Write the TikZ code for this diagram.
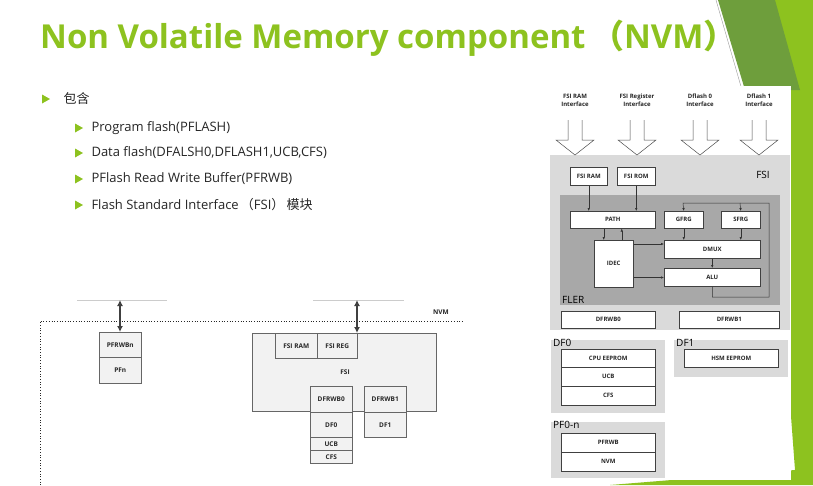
\documentclass[tikz,border=0pt]{standalone}
\usepackage{fontspec}
\setmainfont{Open Sans}
\newfontfamily\cjk{Noto Sans CJK SC}
\usetikzlibrary{arrows.meta}
\definecolor{tgreen}{HTML}{8DC21F}
\definecolor{dgreen}{HTML}{6E9E3C}
\definecolor{lg}{HTML}{DADADA}
\definecolor{dg}{HTML}{A8A8A8}
\tikzset{
 bx/.style={draw=black!75,fill=white,line width=0.5pt,inner sep=0pt},
 lbx/.style={draw=black!60,fill=black!5,line width=0.5pt,inner sep=0pt},
 ar/.style={-{Latex[length=3pt,width=2.5pt]},line width=0.5pt,black!80},
 sf/.style={font=\bfseries\fontsize{6}{7}\selectfont,text=black!85},
 lf/.style={font=\bfseries\fontsize{6.5}{7}\selectfont,text=black!85},
 txt/.style={anchor=west,font=\fontsize{13}{15}\selectfont,text=black!85}
}
\newcommand{\bxr}[6]{\node[#1,minimum width=#4-#2,minimum height=#5-#3,anchor=north west] (#6) at (#2,#3) {};}
\begin{document}
\begin{tikzpicture}[x=1pt,y=-1pt]
\useasboundingbox (0,0) rectangle (813,485);
\fill[white] (0,0) rectangle (813,485);
% decorations
\fill[tgreen] (760,0) -- (813,0) -- (813,485) -- (610,485) -- (795,470) -- cycle;
\fill[dgreen] (718,0) -- (775,0) -- (800,90) -- (745,90) -- cycle;
\draw[black!40,line width=0.4pt] (716,0) -- (742,90);
% title
\node[anchor=base west,text=tgreen,font=\bfseries\fontsize{33}{40}\selectfont,inner sep=0] (title) at (40,48) {Non Volatile Memory component\,{\cjk（}NVM{\cjk）}};
% bullets
\newcommand{\tri}[2]{\fill[tgreen] (#1,#2-4.5) -- (#1+8,#2) -- (#1,#2+4.5) -- cycle;}
\tri{42}{99} \node[txt,font=\cjk\fontsize{13}{15}\selectfont] (b0) at (60,99) {包含};
\tri{75}{128} \node[txt] (b1) at (88,128) {Program flash(PFLASH)};
\tri{75}{153} \node[txt] (b2) at (88,153) {Data flash(DFALSH0,DFLASH1,UCB,CFS)};
\tri{75}{179} \node[txt] (b3) at (88,179) {PFlash Read Write Buffer(PFRWB)};
\tri{75}{205} \node[txt] (b4) at (88,205) {Flash Standard Interface\,{\cjk（}FSI{\cjk）}\,{\cjk 模块}};
% ===== right panel
\fill[white] (549,86) rectangle (791,480);
\fill[lg] (550,155) rectangle (790,330);
\fill[dg] (560,195) rectangle (780,305);
\foreach \cx/\t/\n in {575/{FSI RAM\\Interface}/i1,637/{FSI Register\\Interface}/i2,700/{Dflash 0\\Interface}/i3,759/{Dflash 1\\Interface}/i4}{
 \node[align=center,font=\bfseries\fontsize{6}{8}\selectfont,text=black!85] (\n) at (\cx,100) {\t};
 \draw[line width=0.5pt,black!70,fill=white] (\cx-7,120) -- (\cx-7,140) -- (\cx-19,140) -- (\cx,155) -- (\cx+19,140) -- (\cx+7,140) -- (\cx+7,120);
}
\node[font=\fontsize{10}{10}\selectfont] (fsil) at (763,175) {FSI};
\node[anchor=south west,font=\fontsize{10}{10}\selectfont,inner sep=1pt] (flerl) at (561,305) {FLER};
\bxr{bx}{570}{167}{607}{185}{fram}\node[sf] at (fram) {FSI RAM};
\bxr{bx}{617}{167}{655}{185}{from}\node[sf] at (from) {FSI ROM};
\bxr{bx}{570}{211}{655}{228}{path}\node[sf] at (path) {PATH};
\bxr{bx}{664}{211}{703}{228}{gfrg}\node[sf] at (gfrg) {GFRG};
\bxr{bx}{721}{211}{760}{228}{sfrg}\node[sf] at (sfrg) {SFRG};
\bxr{bx}{594}{240}{633}{287}{idec}\node[sf] at (idec) {IDEC};
\bxr{bx}{664}{240}{760}{258}{dmux}\node[sf] at (dmux) {DMUX};
\bxr{bx}{664}{268}{760}{286}{alu}\node[sf] at (alu) {ALU};
\draw[ar] (fram.south) -- (fram.south |- path.north);
\draw[ar] (from.south) -- (from.south |- path.north);
\draw[ar] ([xshift=-10pt]idec.north |- path.south) -- ([xshift=-10pt]idec.north);
\draw[ar] ([xshift=8pt]idec.north) -- ([xshift=8pt]idec.north |- path.south);
\draw[ar] ([yshift=-4pt]idec.north east) -- ([yshift=-4pt]idec.north east -| dmux.west);
\draw[ar] ([yshift=10pt]idec.south east) -- ([yshift=10pt]idec.south east -| alu.west);
\draw[ar] (gfrg.south) -- (gfrg.south |- dmux.north);
\draw[ar] (sfrg.south) -- (sfrg.south |- dmux.north);
\draw[ar] (dmux.south) -- (alu.north);
\coordinate (lp) at (769,297);
\draw[ar] (alu.south) |- (lp) |- (683,203) -- (gfrg.north);
\draw[ar] (740,203) -- (sfrg.north);
\bxr{bx}{561}{311}{655}{328}{dfrwb0}\node[sf] at (dfrwb0) {DFRWB0};
\bxr{bx}{679}{311}{779}{328}{dfrwb1}\node[sf] at (dfrwb1) {DFRWB1};
% DF0
\fill[lg] (551,340) rectangle (665,413);
\node[anchor=north west,inner sep=0,font=\fontsize{10}{10}\selectfont] (df0l) at (553,339) {DF0};
\bxr{bx}{561}{349}{655}{367}{cpuee}\node[sf] at (cpuee) {CPU EEPROM};
\bxr{bx}{561}{367}{655}{386}{ucb}\node[sf] at (ucb) {UCB};
\bxr{bx}{561}{386}{655}{405}{cfs}\node[sf] at (cfs) {CFS};
\fill[lg] (674,340) rectangle (788,377);
\node[anchor=north west,inner sep=0,font=\fontsize{10}{10}\selectfont] (df1l) at (676,339) {DF1};
\bxr{bx}{684}{349}{778}{367}{hsm}\node[sf] at (hsm) {HSM EEPROM};
\fill[lg] (551,422) rectangle (665,478);
\node[anchor=north west,inner sep=0,font=\fontsize{10}{10}\selectfont] (pfl) at (553,421) {PF0-n};
\bxr{bx}{561}{433}{655}{452}{pfrwb}\node[sf] at (pfrwb) {PFRWB};
\bxr{bx}{561}{452}{655}{471}{nvm}\node[sf] at (nvm) {NVM};
% ===== left diagram
\draw[black!85,line width=0.7pt,dotted] (40,485) -- (40,321) -- (462,321);
\node[lf] (nvml) at (441,312) {NVM};
\draw[black!20,line width=0.6pt] (77,300) -- (167,300);
\draw[black!20,line width=0.6pt] (313,300) -- (404,300);
\bxr{lbx}{252}{333}{436}{411}{fsib}
\node[lf] at (345,372) {FSI};
\bxr{lbx}{99}{332}{141}{357}{pfrwbn}\node[lf] at (pfrwbn) {PFRWBn};
\bxr{lbx}{99}{357}{141}{383}{pfn}\node[lf] at (pfn) {PFn};
\bxr{lbx}{275}{333}{317}{358}{lfram}\node[lf] at (lfram) {FSI RAM};
\bxr{lbx}{317}{333}{357}{358}{lfreg}\node[lf] at (lfreg) {FSI REG};
\bxr{lbx}{310}{386}{352}{412}{ldfrwb0}\node[lf] at (ldfrwb0) {DFRWB0};
\bxr{lbx}{310}{412}{352}{437}{ldf0}\node[lf] at (ldf0) {DF0};
\bxr{lbx}{310}{437}{352}{450}{lucb}\node[lf] at (lucb) {UCB};
\bxr{lbx}{310}{450}{352}{463}{lcfs}\node[lf] at (lcfs) {CFS};
\bxr{lbx}{364}{386}{406}{412}{ldfrwb1}\node[lf] at (ldfrwb1) {DFRWB1};
\bxr{lbx}{364}{412}{406}{437}{ldf1}\node[lf] at (ldf1) {DF1};
\coordinate (t1) at (120,300);
\coordinate (t2) at (357,300);
\draw[{Latex[length=6pt,width=6pt]}-{Latex[length=6pt,width=6pt]},line width=1.5pt,black!75] (t1) -- (pfrwbn.north -| t1);
\draw[{Latex[length=6pt,width=6pt]}-{Latex[length=6pt,width=6pt]},line width=1.5pt,black!75] (t2) -- (fsib.north -| t2);
\end{tikzpicture}
\end{document}
